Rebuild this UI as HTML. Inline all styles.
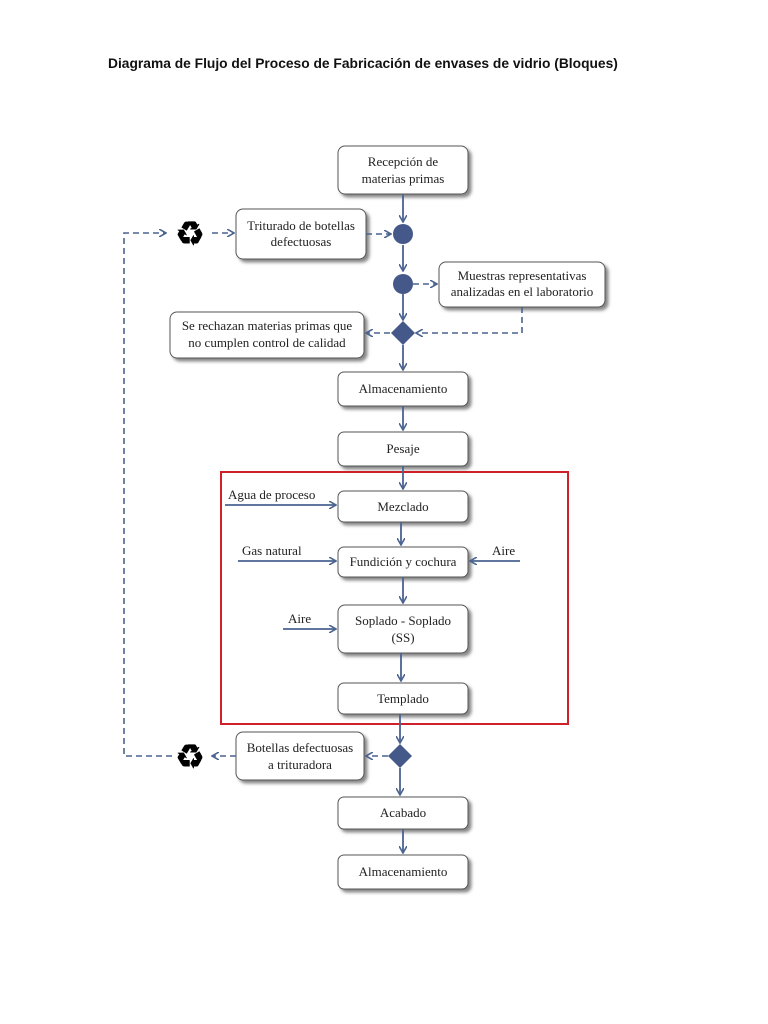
<!DOCTYPE html>
<html><head><meta charset="utf-8"><style>
body{margin:0;background:#fff;width:768px;height:1024px;overflow:hidden}
svg{position:absolute;left:0;top:0}
.t{font-family:"Liberation Serif",serif;font-size:13px;fill:#222;text-anchor:middle}
.l{font-family:"Liberation Serif",serif;font-size:13px;fill:#222}
</style></head><body>
<svg width="768" height="1024" viewBox="0 0 768 1024">
<defs>
<marker id="a" markerWidth="8" markerHeight="8" refX="7" refY="4" orient="auto" markerUnits="userSpaceOnUse"><path d="M0,0 L7,4 L0,8" fill="none" stroke="#4a6390" stroke-width="1.6"/></marker>
<filter id="s" x="-10%" y="-10%" width="130%" height="140%"><feDropShadow dx="3" dy="3" stdDeviation="1.5" flood-color="#555" flood-opacity="0.7"/></filter>
</defs>
<text x="108" y="68" font-family="Liberation Sans,sans-serif" font-weight="bold" font-size="13.8" fill="#111">Diagrama de Flujo del Proceso de Fabricación de envases de vidrio (Bloques)</text>
<g fill="#fff" stroke="#555" stroke-width="1" filter="url(#s)">
<rect x="338" y="146" width="130" height="48" rx="7"/>
<rect x="236" y="209" width="130" height="50" rx="7"/>
<rect x="439" y="262" width="166" height="45" rx="7"/>
<rect x="170" y="312" width="194" height="46" rx="7"/>
<rect x="338" y="372" width="130" height="34" rx="6"/>
<rect x="338" y="432" width="130" height="34" rx="6"/>
<rect x="338" y="491" width="130" height="31" rx="6"/>
<rect x="338" y="547" width="130" height="30" rx="6"/>
<rect x="338" y="605" width="130" height="48" rx="7"/>
<rect x="338" y="683" width="130" height="31" rx="6"/>
<rect x="236" y="732" width="128" height="48" rx="7"/>
<rect x="338" y="797" width="130" height="32" rx="6"/>
<rect x="338" y="855" width="130" height="34" rx="6"/>
</g>
<rect x="221" y="472" width="347" height="252" fill="none" stroke="#d0202a" stroke-width="2"/>
<g stroke="#4a6390" stroke-width="1.8" fill="none">
<line x1="403" y1="194" x2="403" y2="222" marker-end="url(#a)"/>
<line x1="403" y1="245" x2="403" y2="271" marker-end="url(#a)"/>
<line x1="403" y1="294" x2="403" y2="320" marker-end="url(#a)"/>
<line x1="403" y1="345" x2="403" y2="370" marker-end="url(#a)"/>
<line x1="403" y1="406" x2="403" y2="430" marker-end="url(#a)"/>
<line x1="403" y1="466" x2="403" y2="489" marker-end="url(#a)"/>
<line x1="401" y1="522" x2="401" y2="545" marker-end="url(#a)"/>
<line x1="403" y1="577" x2="403" y2="603" marker-end="url(#a)"/>
<line x1="401" y1="653" x2="401" y2="681" marker-end="url(#a)"/>
<line x1="400" y1="714" x2="400" y2="743" marker-end="url(#a)"/>
<line x1="400" y1="768" x2="400" y2="795" marker-end="url(#a)"/>
<line x1="403" y1="829" x2="403" y2="853" marker-end="url(#a)"/>
<line x1="225" y1="505" x2="336" y2="505" marker-end="url(#a)"/>
<line x1="238" y1="561" x2="336" y2="561" marker-end="url(#a)"/>
<line x1="520" y1="561" x2="470" y2="561" marker-end="url(#a)"/>
<line x1="283" y1="629" x2="336" y2="629" marker-end="url(#a)"/>
</g>
<g stroke="#4a6390" stroke-width="1.6" fill="none" stroke-dasharray="6,4">
<line x1="366" y1="234" x2="391" y2="234" marker-end="url(#a)"/>
<line x1="413" y1="284" x2="437" y2="284" marker-end="url(#a)"/>
<polyline points="522,307 522,333 416,333" marker-end="url(#a)"/>
<line x1="390" y1="333" x2="366" y2="333" marker-end="url(#a)"/>
<line x1="388" y1="756" x2="366" y2="756" marker-end="url(#a)"/>
<line x1="236" y1="756" x2="212" y2="756" marker-end="url(#a)"/>
<polyline points="172,756 124,756 124,233 166,233" marker-end="url(#a)"/>
<line x1="212" y1="233" x2="234" y2="233" marker-end="url(#a)"/>
</g>
<g fill="#44598a">
<circle cx="403" cy="234" r="10"/>
<circle cx="403" cy="284" r="10"/>
<path d="M403,321 L415,333 L403,345 L391,333Z"/>
<path d="M400,744 L412,756 L400,768 L388,756Z"/>
</g>
<text x="190" y="245" font-size="33" text-anchor="middle" fill="#000" stroke="#000" stroke-width="0.8" font-family="DejaVu Sans,sans-serif">♻</text>
<text x="190" y="768" font-size="33" text-anchor="middle" fill="#000" stroke="#000" stroke-width="0.8" font-family="DejaVu Sans,sans-serif">♻</text>
<text class="t" x="403" y="166">Recepción de</text>
<text class="t" x="403" y="183">materias primas</text>
<text class="t" x="301" y="230">Triturado de botellas</text>
<text class="t" x="301" y="246">defectuosas</text>
<text class="t" x="522" y="280">Muestras representativas</text>
<text class="t" x="522" y="296">analizadas en el laboratorio</text>
<text class="t" x="267" y="330">Se rechazan materias primas que</text>
<text class="t" x="267" y="347">no cumplen control de calidad</text>
<text class="t" x="403" y="393">Almacenamiento</text>
<text class="t" x="403" y="453">Pesaje</text>
<text class="t" x="403" y="511">Mezclado</text>
<text class="t" x="403" y="566">Fundición y cochura</text>
<text class="t" x="403" y="625">Soplado - Soplado</text>
<text class="t" x="403" y="642">(SS)</text>
<text class="t" x="403" y="703">Templado</text>
<text class="t" x="300" y="752">Botellas defectuosas</text>
<text class="t" x="300" y="769">a trituradora</text>
<text class="t" x="403" y="817">Acabado</text>
<text class="t" x="403" y="876">Almacenamiento</text>
<text class="l" x="228" y="499">Agua de proceso</text>
<text class="l" x="242" y="555">Gas natural</text>
<text class="l" x="492" y="555">Aire</text>
<text class="l" x="288" y="623">Aire</text>
</svg>
</body></html>
